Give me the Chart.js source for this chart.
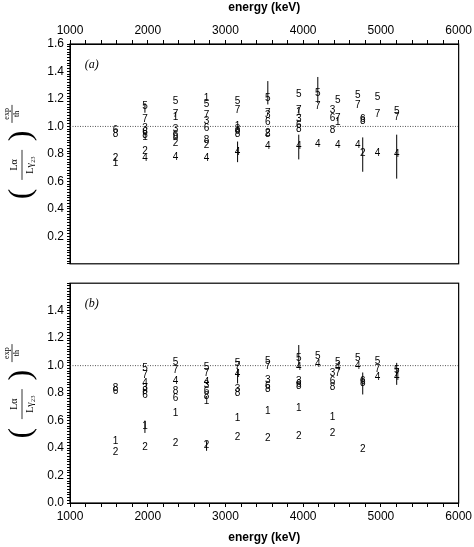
<!DOCTYPE html>
<html><head><meta charset="utf-8">
<script src="https://cdn.jsdelivr.net/npm/chart.js@4.4.0/dist/chart.umd.min.js"></script>
<style>
body{margin:0;background:#fff;width:474px;height:547px;position:relative;overflow:hidden}
.w{position:absolute;left:0;width:474px;height:274px}
</style></head><body>
<div class="w" style="top:0"><canvas id="ca"></canvas></div>
<div class="w" style="top:273px"><canvas id="cb"></canvas></div>
<script>
// ---- data: panel (a) ----
const labelsA = ['1','2','3','4','5','6','7','8'];
const a1 = [[1587,0.73],[1964,0.92],[2358,1.07],[2757,1.205],[3156,1.0],[3943,1.105],[4445,1.03]];
const a2 = [[1587,0.767],[1964,0.82],[2358,0.879],[2757,0.865],[3545,0.95],[4766,0.802]];
const a3 = [[1964,0.99],[2358,0.98],[2757,1.04],[3156,0.98],[3545,1.081],[3943,1.052],[4376,1.121]];
const a4 = [[1964,0.767],[2358,0.772],[2757,0.767],[3156,0.814],[3545,0.855],[3943,0.855],[4188,0.872],[4445,0.86],[4702,0.86],[4957,0.802],[5203,0.798]];
const a5 = [[1964,1.145],[2358,1.186],[2757,1.158],[3156,1.18],[3545,1.205],[3943,1.233],[4188,1.238],[4445,1.19],[4702,1.228],[4957,1.214],[5203,1.112]];
const a6 = [[1587,0.975],[1964,0.958],[2358,0.935],[2757,0.985],[3156,0.965],[3545,1.03],[3943,1.012],[4376,1.058],[4766,1.052]];
const a7 = [[1964,1.052],[2358,1.088],[2757,1.081],[3156,1.117],[3545,1.098],[3943,1.121],[4188,1.145],[4445,1.058],[4702,1.152],[4957,1.088],[5203,1.065]];
const a8 = [[1587,0.94],[1964,0.935],[2358,0.92],[2757,0.902],[3156,0.942],[3545,0.94],[3943,0.98],[4376,0.97],[4766,1.036]];
const errA = [[1964,1.10,1.17],[3156,0.74,0.89],[3545,1.16,1.33],[3943,0.76,0.94],[4188,1.17,1.36],[4766,0.67,0.92],[5203,0.62,0.94]];
// ---- data: panel (b) ----
const b1 = [[1587,0.453],[1964,0.557],[2358,0.655],[2757,0.743],[3156,0.615],[3545,0.669],[3943,0.692],[4376,0.627]];
const b2 = [[1587,0.371],[1964,0.406],[2358,0.436],[2757,0.422],[3156,0.482],[3545,0.468],[3943,0.487],[4376,0.506],[4766,0.394]];
const b3 = [[1964,0.837],[2757,0.86],[3156,0.83],[3545,0.895],[3943,0.888],[4376,0.942]];
const b4 = [[1964,0.87],[2358,0.883],[2757,0.879],[3156,0.935],[3943,0.988],[4188,1.012],[4445,0.988],[4702,0.995],[4957,0.919],[5203,0.912]];
const b5 = [[1964,0.981],[2358,1.023],[2757,0.988],[3156,1.018],[3545,1.035],[3943,1.051],[4188,1.065],[4445,1.023],[4702,1.051],[4957,1.035],[5203,0.965]];
const b6 = [[1587,0.813],[1964,0.785],[2358,0.762],[2757,0.813],[3545,0.849],[3943,0.865],[4376,0.883],[4766,0.883]];
const b7 = [[1964,0.93],[2358,0.965],[2757,0.942],[3156,0.995],[3545,0.995],[4445,0.942],[4957,0.977],[5203,0.942]];
const b8 = [[1587,0.837],[1964,0.813],[2358,0.813],[2757,0.778],[3156,0.802],[3545,0.825],[3943,0.849],[4376,0.842],[4766,0.872]];
const errB = [[1964,0.51,0.60],[2757,0.38,0.45],[3156,0.87,0.98],[3943,0.99,1.15],[4766,0.79,0.95],[5203,0.86,1.02]];
const xTicks = [1000,2000,3000,4000,5000,6000];

const FONT = '"Liberation Sans", Arial, sans-serif';
function ds(series){
  return series.map((s,i)=>({label:labelsA[i],data:s.map(p=>({x:p[0],y:p[1]})),pointRadius:0,showLine:false}));
}
function yTitle(ctx, cy){
  ctx.save();
  ctx.translate(22,cy); ctx.rotate(-Math.PI/2);
  ctx.fillStyle='#000'; ctx.strokeStyle='#000'; ctx.lineWidth=0.8;
  ctx.textAlign='center'; ctx.textBaseline='middle';
  ctx.font='32px "Liberation Serif", serif';
  ctx.fillText('(',-40,0); ctx.fillText(')',18,0);
  ctx.font='10px "Liberation Serif", serif';
  ctx.fillText('L\u03b1',-11,-8);
  ctx.fillText('L\u03b3\u2082\u2083',-11,8);
  ctx.beginPath();ctx.moveTo(-26,0);ctx.lineTo(4,0);ctx.stroke();
  ctx.font='8px "Liberation Serif", serif';
  ctx.fillText('exp',40,-15); ctx.fillText('th',40,-5);
  ctx.beginPath();ctx.moveTo(31,-10);ctx.lineTo(49,-10);ctx.stroke();
  ctx.restore();
}
function deco(tag, errs){
  return {id:'deco'+tag, afterDatasetsDraw(c){
    const ctx=c.ctx, a=c.chartArea, xs=c.scales.x, ys=c.scales.y;
    ctx.save();
    ctx.strokeStyle='#000'; ctx.lineWidth=1;
    errs.forEach(e=>{const x=xs.getPixelForValue(e[0]);ctx.beginPath();ctx.moveTo(x,ys.getPixelForValue(e[1]));ctx.lineTo(x,ys.getPixelForValue(e[2]));ctx.stroke();});
    ctx.setLineDash([1,1.5]); ctx.strokeStyle='#555';
    const y1=ys.getPixelForValue(1.0);
    ctx.beginPath();ctx.moveTo(a.left,y1);ctx.lineTo(a.right,y1);ctx.stroke();
    ctx.setLineDash([]);
    ctx.fillStyle='#000'; ctx.font='10px '+FONT; ctx.textAlign='center'; ctx.textBaseline='middle';
    c.data.datasets.forEach((d,i)=>{c.getDatasetMeta(i).data.forEach(el=>{ctx.fillText(d.label,el.x,el.y);});});
    ctx.font='italic 12px "Liberation Serif", serif';
    ctx.fillText('('+tag+')',xs.getPixelForValue(1280),ys.getPixelForValue(1.45));
    ctx.strokeStyle='#000'; ctx.lineWidth=1.2;
    ctx.strokeRect(a.left,a.top,a.right-a.left,a.bottom-a.top);
    ctx.restore();
    yTitle(ctx,(a.top+a.bottom)/2);
  }};
}
function make(id, series, errs, tag, top){
  new Chart(document.getElementById(id),{
    type:'scatter',
    data:{datasets:ds(series)},
    options:{
      animation:false,responsive:true,maintainAspectRatio:false,
      layout:{padding:{left:0,right:15,top:0,bottom:0}},
      plugins:{legend:{display:false},tooltip:{enabled:false}},
      scales:{
        x:{type:'linear',position:top?'top':'bottom',min:1000,max:6000,
          afterFit(s){s.height=44;},
          title:{display:true,text:'energy (keV)',font:{family:FONT,size:12,weight:'bold'},color:'#000',padding:{top:0,bottom:2}},
          afterBuildTicks(s){s.ticks=[];for(let v=1000;v<=6000;v+=200)s.ticks.push({value:v});},
          ticks:{autoSkip:false,maxRotation:0,color:'#000',font:{family:FONT,size:12},padding:2,
            callback:v=>xTicks.includes(v)?String(v):''},
          grid:{drawOnChartArea:false,tickLength:4,color:'#000'},border:{color:'#000'}},
        y:{min:0,max:1.6,afterFit(s){s.width=70;},
          afterBuildTicks(s){s.ticks=[];for(let v=0;v<=80;v++)s.ticks.push({value:v/50});},
          ticks:{autoSkip:false,color:'#000',font:{family:FONT,size:12},padding:3,
            callback:v=>{const k=Math.round(v*50);if(k%10!==0)return '';if(top&&k===0)return '';if(!top&&k===80)return '';return (k/50).toFixed(1);}},
          grid:{drawOnChartArea:false,tickLength:3,color:'#000'},border:{color:'#000'}}
      }
    },
    plugins:[deco(tag,errs)]
  });
}
make('ca',[a1,a2,a3,a4,a5,a6,a7,a8],errA,'a',true);
make('cb',[b1,b2,b3,b4,b5,b6,b7,b8],errB,'b',false);
</script></body></html>
